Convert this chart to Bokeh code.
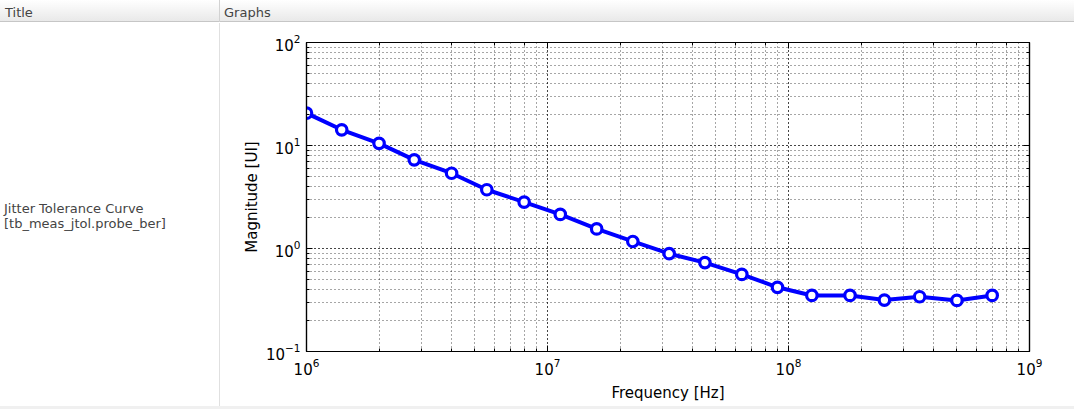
from bokeh.plotting import figure
from bokeh.models import Div, LogAxis, Range1d
from bokeh.layouts import column, row
from bokeh.embed import file_html
from bokeh.resources import INLINE

# ---- data ----
freq_hz = [1.0e6, 1.4e6, 2.0e6, 2.8e6, 4.0e6, 5.6e6, 8.0e6, 11.3e6, 16.0e6, 22.6e6,
           32.0e6, 45.0e6, 64.0e6, 90.0e6, 125e6, 180e6, 250e6, 350e6, 500e6, 700e6]
magnitude_ui = [20.6, 14.2, 10.5, 7.26, 5.38, 3.72, 2.82, 2.14, 1.55, 1.17,
                0.89, 0.73, 0.56, 0.42, 0.35, 0.35, 0.316, 0.34, 0.313, 0.35]
x_bounds = [1e6, 1e9]
y_bounds = [0.1, 100]
header_labels = ["Title", "Graphs"]
row_title_lines = ["Jitter Tolerance Curve", "[tb_meas_jtol.probe_ber]"]
x_label = "Frequency [Hz]"
y_label = "Magnitude [UI]"

FONT = "DejaVu Sans"
W = 1074
LEFT_W = 220
HEADER_H = 23
ROW_H = 383

# ---- table header ----
header_html = (
    f'<div style="position:relative;left:0;top:0;width:{W}px;height:22px;'
    'background:linear-gradient(to bottom,#ffffff,#e9e9e9);border-bottom:1px solid #c6c6c6;'
    f'font-family:\'{FONT}\';font-size:13px;color:#444;">'
    f'<span style="position:absolute;left:5px;top:4px;white-space:nowrap;">{header_labels[0]}</span>'
    '<div style="position:absolute;left:219px;top:0;width:1px;height:22px;background:#d2d2d2;"></div>'
    f'<span style="position:absolute;left:224px;top:4px;white-space:nowrap;">{header_labels[1]}</span>'
    '</div>'
)
header = Div(text=header_html, width=W, height=HEADER_H, margin=0,
             styles={"overflow": "visible"})

left_html = (
    f'<div style="position:relative;left:0;top:0;width:{LEFT_W}px;height:{ROW_H}px;'
    f'font-family:\'{FONT}\';font-size:13px;color:#444;">'
    f'<div style="position:absolute;left:219px;top:0;width:1px;height:{ROW_H}px;background:#e0e0e0;"></div>'
    '<div style="position:absolute;left:4px;top:178px;line-height:15px;white-space:nowrap;">'
    + "<br>".join(row_title_lines) +
    '</div>'
    f'<div style="position:absolute;left:0;top:{ROW_H}px;width:{W}px;height:3px;background:#f0f0f0;"></div>'
    '</div>'
)
left = Div(text=left_html, width=LEFT_W, height=ROW_H, margin=0,
           styles={"overflow": "visible"})

# ---- plot ----
p = figure(width=W - LEFT_W, height=ROW_H, x_axis_type="log", y_axis_type="log",
           x_range=Range1d(*x_bounds), y_range=Range1d(*y_bounds),
           output_backend="svg", toolbar_location=None,
           min_border_left=306 - LEFT_W, min_border_right=W - 1029,
           min_border_top=42 - HEADER_H, min_border_bottom=HEADER_H + ROW_H - 351,
           background_fill_color="white", border_fill_color="white", margin=0)
p.outline_line_color = "black"
p.outline_line_width = 1.2

for g in (p.xgrid, p.ygrid):
    g.grid_line_color = "black"
    g.grid_line_dash = "1 3"
    g.grid_line_alpha = 0.7
    g.minor_grid_line_color = "black"
    g.minor_grid_line_dash = "1 3"
    g.minor_grid_line_alpha = 0.7

def style_axis(ax, show_labels=True):
    ax.axis_line_color = "black"
    ax.axis_line_width = 1.2
    ax.major_tick_in = 6
    ax.major_tick_out = 0
    ax.minor_tick_in = 3
    ax.minor_tick_out = 0
    ax.major_tick_line_color = "black"
    ax.minor_tick_line_color = "black"
    ax.major_label_text_font = FONT
    ax.major_label_text_font_size = "15px"
    ax.major_label_text_color = "black" if show_labels else None
    ax.axis_label_text_font = FONT
    ax.axis_label_text_font_size = "15px"
    ax.axis_label_text_font_style = "normal"
    ax.axis_label_text_color = "black"

p.xaxis.axis_label = x_label
p.yaxis.axis_label = y_label
for ax in p.xaxis + p.yaxis:
    style_axis(ax)
p.xaxis.major_label_standoff = 6
p.yaxis.major_label_standoff = 6
p.xaxis.axis_label_standoff = 6
p.yaxis.axis_label_standoff = 2

top_ax = LogAxis()
right_ax = LogAxis()
style_axis(top_ax, False)
style_axis(right_ax, False)
top_ax.major_label_text_font_size = "1px"
right_ax.major_label_text_font_size = "1px"
top_ax.major_label_standoff = 0
right_ax.major_label_standoff = 0
p.add_layout(top_ax, "above")
p.add_layout(right_ax, "right")

p.line(freq_hz, magnitude_ui, line_color="#0000ff", line_width=4)
p.scatter(freq_hz, magnitude_ui, size=10.5, fill_color="white",
          line_color="#0000ff", line_width=3.2)

layout = column(header, row(left, p, spacing=0, margin=0), spacing=0, margin=0)

open("out.html", "w").write(file_html(layout, INLINE))
